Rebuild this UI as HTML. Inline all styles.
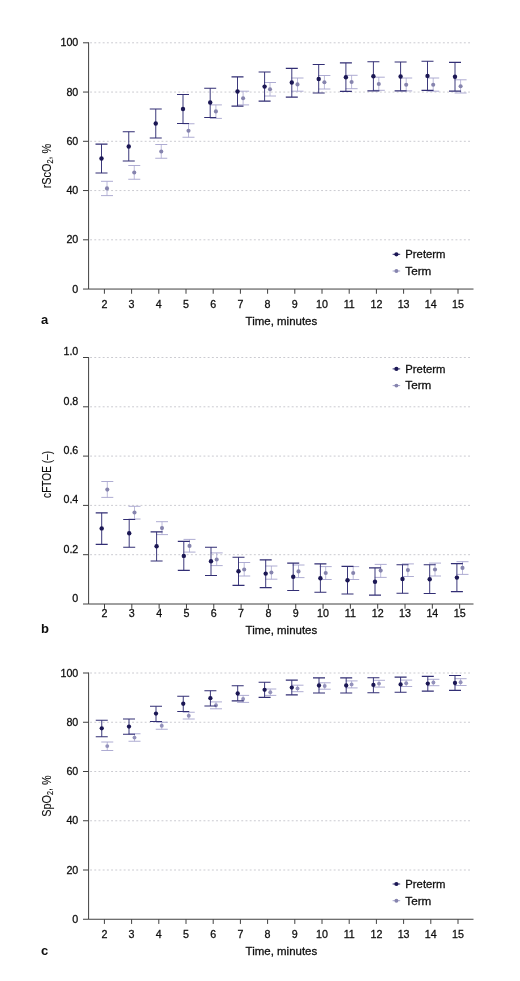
<!DOCTYPE html>
<html lang="en">
<head>
<meta charset="utf-8">
<title>rScO2, cFTOE and SpO2 over time: preterm vs term</title>
<style>
html,body{margin:0;padding:0;background:#fff;}
body{width:520px;height:981px;overflow:hidden;font-family:"Liberation Sans",sans-serif;}
svg{display:block;}
text{font-family:"Liberation Sans",sans-serif;fill:#0d0d0d;stroke:#111;stroke-width:0.28px;}
.lt{stroke:none;}
.yt{stroke-width:0.12px;}
.tk{font-size:10.7px;}
.lb{font-size:11px;}
.yt{font-size:12.3px;}
.lt{font-size:13px;font-weight:bold;}
</style>
</head>
<body>
<svg width="520" height="981" viewBox="0 0 520 981">
<rect width="520" height="981" fill="#ffffff"/>
<g>
<line x1="90.1" y1="42.8" x2="472" y2="42.8" stroke="#c5c5cc" stroke-width="0.9" stroke-dasharray="1.9 2.3"/>
<line x1="90.1" y1="92.05" x2="472" y2="92.05" stroke="#c5c5cc" stroke-width="0.9" stroke-dasharray="1.9 2.3"/>
<line x1="90.1" y1="141.3" x2="472" y2="141.3" stroke="#c5c5cc" stroke-width="0.9" stroke-dasharray="1.9 2.3"/>
<line x1="90.1" y1="190.55" x2="472" y2="190.55" stroke="#c5c5cc" stroke-width="0.9" stroke-dasharray="1.9 2.3"/>
<line x1="90.1" y1="239.8" x2="472" y2="239.8" stroke="#c5c5cc" stroke-width="0.9" stroke-dasharray="1.9 2.3"/>
<path d="M107 181.3V195.6M134.25 165.5V179.25M161.25 144.5V158.25M188.5 123.75V137.25M215.9 104.9V118.4M243.1 91.2V104.9M270 82.5V96M297.5 78V91.2M324.4 75.5V89M351.6 75.3V88.7M378.8 77.2V90.3M406.2 78V90.9M433.2 78V91.2M460.6 79.8V93" stroke="#a5a3cd" stroke-width="0.75" fill="none"/>
<path d="M101 181.3H113M101 195.6H113M128.25 165.5H140.25M128.25 179.25H140.25M155.25 144.5H167.25M155.25 158.25H167.25M182.5 123.75H194.5M182.5 137.25H194.5M209.9 104.9H221.9M209.9 118.4H221.9M237.1 91.2H249.1M237.1 104.9H249.1M264 82.5H276M264 96H276M291.5 78H303.5M291.5 91.2H303.5M318.4 75.5H330.4M318.4 89H330.4M345.6 75.3H357.6M345.6 88.7H357.6M372.8 77.2H384.8M372.8 90.3H384.8M400.2 78H412.2M400.2 90.9H412.2M427.2 78H439.2M427.2 91.2H439.2M454.6 79.8H466.6M454.6 93H466.6" stroke="#a5a3cd" stroke-width="0.9" fill="none"/>
<circle cx="107" cy="188.4" r="2.05" fill="#8684ae"/>
<circle cx="134.25" cy="172.5" r="2.05" fill="#8684ae"/>
<circle cx="161.25" cy="151.5" r="2.05" fill="#8684ae"/>
<circle cx="188.5" cy="130.75" r="2.05" fill="#8684ae"/>
<circle cx="215.9" cy="111.4" r="2.05" fill="#8684ae"/>
<circle cx="243.1" cy="98.2" r="2.05" fill="#8684ae"/>
<circle cx="270" cy="89.3" r="2.05" fill="#8684ae"/>
<circle cx="297.5" cy="84.4" r="2.05" fill="#8684ae"/>
<circle cx="324.4" cy="82.3" r="2.05" fill="#8684ae"/>
<circle cx="351.6" cy="82" r="2.05" fill="#8684ae"/>
<circle cx="378.8" cy="84" r="2.05" fill="#8684ae"/>
<circle cx="406.2" cy="84.8" r="2.05" fill="#8684ae"/>
<circle cx="433.2" cy="84.8" r="2.05" fill="#8684ae"/>
<circle cx="460.6" cy="86.3" r="2.05" fill="#8684ae"/>
<path d="M101.5 144.1V173M128.75 131.75V161M155.75 109V138M183 94.5V123.5M210.2 88.2V117.5M237.5 76.9V106.1M264.6 72V101.1M291.8 68.3V97.1M318.7 64.5V93M345.9 62.9V91.4M373.4 61.7V90.8M400.6 62V90.8M427.5 61.2V90.3M455 62.3V91.1" stroke="#322e74" stroke-width="0.95" fill="none"/>
<path d="M95.5 144.1H107.5M95.5 173H107.5M122.75 131.75H134.75M122.75 161H134.75M149.75 109H161.75M149.75 138H161.75M177 94.5H189M177 123.5H189M204.2 88.2H216.2M204.2 117.5H216.2M231.5 76.9H243.5M231.5 106.1H243.5M258.6 72H270.6M258.6 101.1H270.6M285.8 68.3H297.8M285.8 97.1H297.8M312.7 64.5H324.7M312.7 93H324.7M339.9 62.9H351.9M339.9 91.4H351.9M367.4 61.7H379.4M367.4 90.8H379.4M394.6 62H406.6M394.6 90.8H406.6M421.5 61.2H433.5M421.5 90.3H433.5M449 62.3H461M449 91.1H461" stroke="#322e74" stroke-width="1.15" fill="none"/>
<circle cx="101.5" cy="158.5" r="2.2" fill="#1b1754"/>
<circle cx="128.75" cy="146.5" r="2.2" fill="#1b1754"/>
<circle cx="155.75" cy="123.5" r="2.2" fill="#1b1754"/>
<circle cx="183" cy="109" r="2.2" fill="#1b1754"/>
<circle cx="210.2" cy="102.5" r="2.2" fill="#1b1754"/>
<circle cx="237.5" cy="91.5" r="2.2" fill="#1b1754"/>
<circle cx="264.6" cy="86.6" r="2.2" fill="#1b1754"/>
<circle cx="291.8" cy="82.5" r="2.2" fill="#1b1754"/>
<circle cx="318.7" cy="79" r="2.2" fill="#1b1754"/>
<circle cx="345.9" cy="77.2" r="2.2" fill="#1b1754"/>
<circle cx="373.4" cy="76.3" r="2.2" fill="#1b1754"/>
<circle cx="400.6" cy="76.5" r="2.2" fill="#1b1754"/>
<circle cx="427.5" cy="75.9" r="2.2" fill="#1b1754"/>
<circle cx="455" cy="76.8" r="2.2" fill="#1b1754"/>
<path d="M88.6 42.3V289.05H473.5M83 42.8H88.6M83 92.05H88.6M83 141.3H88.6M83 190.55H88.6M83 239.8H88.6M83 289.05H88.6M104.4 289.05V293.75M131.6 289.05V293.75M158.8 289.05V293.75M186 289.05V293.75M213.2 289.05V293.75M240.4 289.05V293.75M267.6 289.05V293.75M294.8 289.05V293.75M322 289.05V293.75M349.2 289.05V293.75M376.4 289.05V293.75M403.6 289.05V293.75M430.8 289.05V293.75M458 289.05V293.75" stroke="#404040" stroke-width="1" fill="none"/>
<text x="78.3" y="46.4" text-anchor="end" class="tk">100</text>
<text x="78.3" y="95.65" text-anchor="end" class="tk">80</text>
<text x="78.3" y="144.9" text-anchor="end" class="tk">60</text>
<text x="78.3" y="194.15" text-anchor="end" class="tk">40</text>
<text x="78.3" y="243.4" text-anchor="end" class="tk">20</text>
<text x="78.3" y="292.65" text-anchor="end" class="tk">0</text>
<text x="104.4" y="308.2" text-anchor="middle" class="tk">2</text>
<text x="131.6" y="308.2" text-anchor="middle" class="tk">3</text>
<text x="158.8" y="308.2" text-anchor="middle" class="tk">4</text>
<text x="186" y="308.2" text-anchor="middle" class="tk">5</text>
<text x="213.2" y="308.2" text-anchor="middle" class="tk">6</text>
<text x="240.4" y="308.2" text-anchor="middle" class="tk">7</text>
<text x="267.6" y="308.2" text-anchor="middle" class="tk">8</text>
<text x="294.8" y="308.2" text-anchor="middle" class="tk">9</text>
<text x="322" y="308.2" text-anchor="middle" class="tk">10</text>
<text x="349.2" y="308.2" text-anchor="middle" class="tk">11</text>
<text x="376.4" y="308.2" text-anchor="middle" class="tk">12</text>
<text x="403.6" y="308.2" text-anchor="middle" class="tk">13</text>
<text x="430.8" y="308.2" text-anchor="middle" class="tk">14</text>
<text x="458" y="308.2" text-anchor="middle" class="tk">15</text>
<text x="281.4" y="325" text-anchor="middle" class="lb" textLength="71.6" lengthAdjust="spacingAndGlyphs">Time, minutes</text>
<text transform="translate(51.3 166) rotate(-90)" text-anchor="middle" class="yt" textLength="44.6" lengthAdjust="spacingAndGlyphs">rScO<tspan font-size="8.2" dy="2">2</tspan><tspan dy="-2">, %</tspan></text>
<text x="41" y="324" class="lt">a</text>
<line x1="392.6" x2="400.2" y1="254.3" y2="254.3" stroke="#322e74" stroke-width="1"/>
<circle cx="396.4" cy="254.3" r="2.1" fill="#1b1754"/>
<text x="405.3" y="258.1" class="lb" textLength="40.2" lengthAdjust="spacingAndGlyphs">Preterm</text>
<line x1="392.6" x2="400.2" y1="271" y2="271" stroke="#a5a3cd" stroke-width="1"/>
<circle cx="396.4" cy="271" r="1.95" fill="#8684ae"/>
<text x="405.3" y="274.8" class="lb" textLength="26" lengthAdjust="spacingAndGlyphs">Term</text>
</g>
<g>
<line x1="90.1" y1="357.5" x2="472" y2="357.5" stroke="#c5c5cc" stroke-width="0.9" stroke-dasharray="1.9 2.3"/>
<line x1="90.1" y1="406.8" x2="472" y2="406.8" stroke="#c5c5cc" stroke-width="0.9" stroke-dasharray="1.9 2.3"/>
<line x1="90.1" y1="456.1" x2="472" y2="456.1" stroke="#c5c5cc" stroke-width="0.9" stroke-dasharray="1.9 2.3"/>
<line x1="90.1" y1="505.4" x2="472" y2="505.4" stroke="#c5c5cc" stroke-width="0.9" stroke-dasharray="1.9 2.3"/>
<line x1="90.1" y1="554.7" x2="472" y2="554.7" stroke="#c5c5cc" stroke-width="0.9" stroke-dasharray="1.9 2.3"/>
<path d="M107.3 481.5V497.4M134.5 506.3V519M162 521.7V534.6M189.5 539.4V552.1M216.7 552.9V565.6M244.2 562.5V576M271.4 566V579.2M298.5 565V577.6M325.7 566.6V579.5M353.2 566.6V579.5M380.7 564.4V577.4M407.9 563.9V576.5M435 563.1V576M462.5 561.7V574.4" stroke="#a5a3cd" stroke-width="0.75" fill="none"/>
<path d="M101.3 481.5H113.3M101.3 497.4H113.3M128.5 506.3H140.5M128.5 519H140.5M156 521.7H168M156 534.6H168M183.5 539.4H195.5M183.5 552.1H195.5M210.7 552.9H222.7M210.7 565.6H222.7M238.2 562.5H250.2M238.2 576H250.2M265.4 566H277.4M265.4 579.2H277.4M292.5 565H304.5M292.5 577.6H304.5M319.7 566.6H331.7M319.7 579.5H331.7M347.2 566.6H359.2M347.2 579.5H359.2M374.7 564.4H386.7M374.7 577.4H386.7M401.9 563.9H413.9M401.9 576.5H413.9M429 563.1H441M429 576H441M456.5 561.7H468.5M456.5 574.4H468.5" stroke="#a5a3cd" stroke-width="0.9" fill="none"/>
<circle cx="107.3" cy="489.6" r="2.05" fill="#8684ae"/>
<circle cx="134.5" cy="512.5" r="2.05" fill="#8684ae"/>
<circle cx="162" cy="528.1" r="2.05" fill="#8684ae"/>
<circle cx="189.5" cy="545.9" r="2.05" fill="#8684ae"/>
<circle cx="216.7" cy="559.5" r="2.05" fill="#8684ae"/>
<circle cx="244.2" cy="569.5" r="2.05" fill="#8684ae"/>
<circle cx="271.4" cy="572.5" r="2.05" fill="#8684ae"/>
<circle cx="298.5" cy="571.4" r="2.05" fill="#8684ae"/>
<circle cx="325.7" cy="573" r="2.05" fill="#8684ae"/>
<circle cx="353.2" cy="573" r="2.05" fill="#8684ae"/>
<circle cx="380.7" cy="570.6" r="2.05" fill="#8684ae"/>
<circle cx="407.9" cy="570.1" r="2.05" fill="#8684ae"/>
<circle cx="435" cy="569.5" r="2.05" fill="#8684ae"/>
<circle cx="462.5" cy="567.9" r="2.05" fill="#8684ae"/>
<path d="M101.7 512.8V544.3M129.2 519.5V547.2M156.6 531.9V561M183.8 541.3V570.4M211 547.2V575.5M238.5 557.2V585.4M265.7 559.8V587.6M293.2 563.1V590.5M320.4 563.9V592.2M347.5 566.3V594M375 567.9V595.1M402.5 564.7V593.2M429.7 564.7V593.5M456.9 563.6V591.6" stroke="#322e74" stroke-width="0.95" fill="none"/>
<path d="M95.7 512.8H107.7M95.7 544.3H107.7M123.2 519.5H135.2M123.2 547.2H135.2M150.6 531.9H162.6M150.6 561H162.6M177.8 541.3H189.8M177.8 570.4H189.8M205 547.2H217M205 575.5H217M232.5 557.2H244.5M232.5 585.4H244.5M259.7 559.8H271.7M259.7 587.6H271.7M287.2 563.1H299.2M287.2 590.5H299.2M314.4 563.9H326.4M314.4 592.2H326.4M341.5 566.3H353.5M341.5 594H353.5M369 567.9H381M369 595.1H381M396.5 564.7H408.5M396.5 593.2H408.5M423.7 564.7H435.7M423.7 593.5H435.7M450.9 563.6H462.9M450.9 591.6H462.9" stroke="#322e74" stroke-width="1.15" fill="none"/>
<circle cx="101.7" cy="528.4" r="2.2" fill="#1b1754"/>
<circle cx="129.2" cy="533.2" r="2.2" fill="#1b1754"/>
<circle cx="156.6" cy="546.2" r="2.2" fill="#1b1754"/>
<circle cx="183.8" cy="555.9" r="2.2" fill="#1b1754"/>
<circle cx="211" cy="561.2" r="2.2" fill="#1b1754"/>
<circle cx="238.5" cy="571.2" r="2.2" fill="#1b1754"/>
<circle cx="265.7" cy="573.6" r="2.2" fill="#1b1754"/>
<circle cx="293.2" cy="576.8" r="2.2" fill="#1b1754"/>
<circle cx="320.4" cy="578.2" r="2.2" fill="#1b1754"/>
<circle cx="347.5" cy="580.3" r="2.2" fill="#1b1754"/>
<circle cx="375" cy="581.7" r="2.2" fill="#1b1754"/>
<circle cx="402.5" cy="579" r="2.2" fill="#1b1754"/>
<circle cx="429.7" cy="579.2" r="2.2" fill="#1b1754"/>
<circle cx="456.9" cy="577.6" r="2.2" fill="#1b1754"/>
<path d="M88.6 357V604H473.5M83 357.5H88.6M83 406.8H88.6M83 456.1H88.6M83 505.4H88.6M83 554.7H88.6M83 604H88.6M104.5 604V608.7M131.82 604V608.7M159.14 604V608.7M186.46 604V608.7M213.78 604V608.7M241.1 604V608.7M268.42 604V608.7M295.74 604V608.7M323.06 604V608.7M350.38 604V608.7M377.7 604V608.7M405.02 604V608.7M432.34 604V608.7M459.66 604V608.7" stroke="#404040" stroke-width="1" fill="none"/>
<text x="78.3" y="355.3" text-anchor="end" class="tk">1.0</text>
<text x="78.3" y="404.6" text-anchor="end" class="tk">0.8</text>
<text x="78.3" y="453.9" text-anchor="end" class="tk">0.6</text>
<text x="78.3" y="503.2" text-anchor="end" class="tk">0.4</text>
<text x="78.3" y="552.5" text-anchor="end" class="tk">0.2</text>
<text x="78.3" y="601.8" text-anchor="end" class="tk">0</text>
<text x="104.5" y="616.7" text-anchor="middle" class="tk">2</text>
<text x="131.82" y="616.7" text-anchor="middle" class="tk">3</text>
<text x="159.14" y="616.7" text-anchor="middle" class="tk">4</text>
<text x="186.46" y="616.7" text-anchor="middle" class="tk">5</text>
<text x="213.78" y="616.7" text-anchor="middle" class="tk">6</text>
<text x="241.1" y="616.7" text-anchor="middle" class="tk">7</text>
<text x="268.42" y="616.7" text-anchor="middle" class="tk">8</text>
<text x="295.74" y="616.7" text-anchor="middle" class="tk">9</text>
<text x="323.06" y="616.7" text-anchor="middle" class="tk">10</text>
<text x="350.38" y="616.7" text-anchor="middle" class="tk">11</text>
<text x="377.7" y="616.7" text-anchor="middle" class="tk">12</text>
<text x="405.02" y="616.7" text-anchor="middle" class="tk">13</text>
<text x="432.34" y="616.7" text-anchor="middle" class="tk">14</text>
<text x="459.66" y="616.7" text-anchor="middle" class="tk">15</text>
<text x="281.4" y="633.7" text-anchor="middle" class="lb" textLength="71.6" lengthAdjust="spacingAndGlyphs">Time, minutes</text>
<text transform="translate(51.3 474.4) rotate(-90)" text-anchor="middle" class="yt" textLength="47" lengthAdjust="spacingAndGlyphs">cFTOE (–)</text>
<text x="41" y="633" class="lt">b</text>
<line x1="392.6" x2="400.2" y1="368.9" y2="368.9" stroke="#322e74" stroke-width="1"/>
<circle cx="396.4" cy="368.9" r="2.1" fill="#1b1754"/>
<text x="405.3" y="372.7" class="lb" textLength="40.2" lengthAdjust="spacingAndGlyphs">Preterm</text>
<line x1="392.6" x2="400.2" y1="385.6" y2="385.6" stroke="#a5a3cd" stroke-width="1"/>
<circle cx="396.4" cy="385.6" r="1.95" fill="#8684ae"/>
<text x="405.3" y="389.4" class="lb" textLength="26" lengthAdjust="spacingAndGlyphs">Term</text>
</g>
<g>
<line x1="90.1" y1="673" x2="472" y2="673" stroke="#c5c5cc" stroke-width="0.9" stroke-dasharray="1.9 2.3"/>
<line x1="90.1" y1="722.25" x2="472" y2="722.25" stroke="#c5c5cc" stroke-width="0.9" stroke-dasharray="1.9 2.3"/>
<line x1="90.1" y1="771.5" x2="472" y2="771.5" stroke="#c5c5cc" stroke-width="0.9" stroke-dasharray="1.9 2.3"/>
<line x1="90.1" y1="820.75" x2="472" y2="820.75" stroke="#c5c5cc" stroke-width="0.9" stroke-dasharray="1.9 2.3"/>
<line x1="90.1" y1="870" x2="472" y2="870" stroke="#c5c5cc" stroke-width="0.9" stroke-dasharray="1.9 2.3"/>
<path d="M107.25 742V750.5M134.5 733.75V741.25M161.75 722.25V729.25M188.75 712.25V719M216 701.9V708.8M243.1 695.4V702.4M270.3 689V695.4M297.5 685.2V691.7M324.7 682.8V689.2M351.6 680.9V687.9M379 680.3V687.1M406.2 680.1V686.5M433.4 679.3V685.7M460.6 678.7V685.5" stroke="#a5a3cd" stroke-width="0.75" fill="none"/>
<path d="M101.25 742H113.25M101.25 750.5H113.25M128.5 733.75H140.5M128.5 741.25H140.5M155.75 722.25H167.75M155.75 729.25H167.75M182.75 712.25H194.75M182.75 719H194.75M210 701.9H222M210 708.8H222M237.1 695.4H249.1M237.1 702.4H249.1M264.3 689H276.3M264.3 695.4H276.3M291.5 685.2H303.5M291.5 691.7H303.5M318.7 682.8H330.7M318.7 689.2H330.7M345.6 680.9H357.6M345.6 687.9H357.6M373 680.3H385M373 687.1H385M400.2 680.1H412.2M400.2 686.5H412.2M427.4 679.3H439.4M427.4 685.7H439.4M454.6 678.7H466.6M454.6 685.5H466.6" stroke="#a5a3cd" stroke-width="0.9" fill="none"/>
<circle cx="107.25" cy="746.1" r="1.95" fill="#9391bb"/>
<circle cx="134.5" cy="737.6" r="1.95" fill="#9391bb"/>
<circle cx="161.75" cy="725.75" r="1.95" fill="#9391bb"/>
<circle cx="188.75" cy="715.75" r="1.95" fill="#9391bb"/>
<circle cx="216" cy="705.3" r="1.95" fill="#9391bb"/>
<circle cx="243.1" cy="698.9" r="1.95" fill="#9391bb"/>
<circle cx="270.3" cy="692.2" r="1.95" fill="#9391bb"/>
<circle cx="297.5" cy="688.4" r="1.95" fill="#9391bb"/>
<circle cx="324.7" cy="686" r="1.95" fill="#9391bb"/>
<circle cx="351.6" cy="684.4" r="1.95" fill="#9391bb"/>
<circle cx="379" cy="683.6" r="1.95" fill="#9391bb"/>
<circle cx="406.2" cy="683.3" r="1.95" fill="#9391bb"/>
<circle cx="433.4" cy="682.5" r="1.95" fill="#9391bb"/>
<circle cx="460.6" cy="682.2" r="1.95" fill="#9391bb"/>
<path d="M101.75 720.25V736.75M129 719V734.25M156 706.25V721.5M183.25 696.25V711.5M210.4 690.7V706M237.7 685.7V700.8M264.6 682.2V697.3M291.8 680.1V694.9M319 677.9V693M346.2 677.9V693M373.4 677.7V692.7M400.6 677.1V692.2M427.8 676.3V691.1M455 675.5V690.3" stroke="#322e74" stroke-width="0.95" fill="none"/>
<path d="M95.75 720.25H107.75M95.75 736.75H107.75M123 719H135M123 734.25H135M150 706.25H162M150 721.5H162M177.25 696.25H189.25M177.25 711.5H189.25M204.4 690.7H216.4M204.4 706H216.4M231.7 685.7H243.7M231.7 700.8H243.7M258.6 682.2H270.6M258.6 697.3H270.6M285.8 680.1H297.8M285.8 694.9H297.8M313 677.9H325M313 693H325M340.2 677.9H352.2M340.2 693H352.2M367.4 677.7H379.4M367.4 692.7H379.4M394.6 677.1H406.6M394.6 692.2H406.6M421.8 676.3H433.8M421.8 691.1H433.8M449 675.5H461M449 690.3H461" stroke="#322e74" stroke-width="1.15" fill="none"/>
<circle cx="101.75" cy="728.3" r="2.15" fill="#1b1754"/>
<circle cx="129" cy="726.6" r="2.15" fill="#1b1754"/>
<circle cx="156" cy="713.6" r="2.15" fill="#1b1754"/>
<circle cx="183.25" cy="703.75" r="2.15" fill="#1b1754"/>
<circle cx="210.4" cy="698.2" r="2.15" fill="#1b1754"/>
<circle cx="237.7" cy="693.5" r="2.15" fill="#1b1754"/>
<circle cx="264.6" cy="689.8" r="2.15" fill="#1b1754"/>
<circle cx="291.8" cy="687.6" r="2.15" fill="#1b1754"/>
<circle cx="319" cy="685.5" r="2.15" fill="#1b1754"/>
<circle cx="346.2" cy="685.5" r="2.15" fill="#1b1754"/>
<circle cx="373.4" cy="684.9" r="2.15" fill="#1b1754"/>
<circle cx="400.6" cy="684.4" r="2.15" fill="#1b1754"/>
<circle cx="427.8" cy="683.6" r="2.15" fill="#1b1754"/>
<circle cx="455" cy="683" r="2.15" fill="#1b1754"/>
<path d="M88.6 672.5V919.25H473.5M83 673H88.6M83 722.25H88.6M83 771.5H88.6M83 820.75H88.6M83 870H88.6M83 919.25H88.6M104.4 919.25V923.95M131.6 919.25V923.95M158.8 919.25V923.95M186 919.25V923.95M213.2 919.25V923.95M240.4 919.25V923.95M267.6 919.25V923.95M294.8 919.25V923.95M322 919.25V923.95M349.2 919.25V923.95M376.4 919.25V923.95M403.6 919.25V923.95M430.8 919.25V923.95M458 919.25V923.95" stroke="#404040" stroke-width="1" fill="none"/>
<text x="78.3" y="676.6" text-anchor="end" class="tk">100</text>
<text x="78.3" y="725.85" text-anchor="end" class="tk">80</text>
<text x="78.3" y="775.1" text-anchor="end" class="tk">60</text>
<text x="78.3" y="824.35" text-anchor="end" class="tk">40</text>
<text x="78.3" y="873.6" text-anchor="end" class="tk">20</text>
<text x="78.3" y="922.85" text-anchor="end" class="tk">0</text>
<text x="104.4" y="938.3" text-anchor="middle" class="tk">2</text>
<text x="131.6" y="938.3" text-anchor="middle" class="tk">3</text>
<text x="158.8" y="938.3" text-anchor="middle" class="tk">4</text>
<text x="186" y="938.3" text-anchor="middle" class="tk">5</text>
<text x="213.2" y="938.3" text-anchor="middle" class="tk">6</text>
<text x="240.4" y="938.3" text-anchor="middle" class="tk">7</text>
<text x="267.6" y="938.3" text-anchor="middle" class="tk">8</text>
<text x="294.8" y="938.3" text-anchor="middle" class="tk">9</text>
<text x="322" y="938.3" text-anchor="middle" class="tk">10</text>
<text x="349.2" y="938.3" text-anchor="middle" class="tk">11</text>
<text x="376.4" y="938.3" text-anchor="middle" class="tk">12</text>
<text x="403.6" y="938.3" text-anchor="middle" class="tk">13</text>
<text x="430.8" y="938.3" text-anchor="middle" class="tk">14</text>
<text x="458" y="938.3" text-anchor="middle" class="tk">15</text>
<text x="281.4" y="955" text-anchor="middle" class="lb" textLength="71.6" lengthAdjust="spacingAndGlyphs">Time, minutes</text>
<text transform="translate(51.3 796.1) rotate(-90)" text-anchor="middle" class="yt" textLength="41.4" lengthAdjust="spacingAndGlyphs">SpO<tspan font-size="8.2" dy="2">2</tspan><tspan dy="-2">, %</tspan></text>
<text x="41" y="954.5" class="lt">c</text>
<line x1="392.6" x2="400.2" y1="884" y2="884" stroke="#322e74" stroke-width="1"/>
<circle cx="396.4" cy="884" r="2.1" fill="#1b1754"/>
<text x="405.3" y="887.8" class="lb" textLength="40.2" lengthAdjust="spacingAndGlyphs">Preterm</text>
<line x1="392.6" x2="400.2" y1="900.7" y2="900.7" stroke="#a5a3cd" stroke-width="1"/>
<circle cx="396.4" cy="900.7" r="1.95" fill="#8684ae"/>
<text x="405.3" y="904.5" class="lb" textLength="26" lengthAdjust="spacingAndGlyphs">Term</text>
</g>
</svg>
</body>
</html>
